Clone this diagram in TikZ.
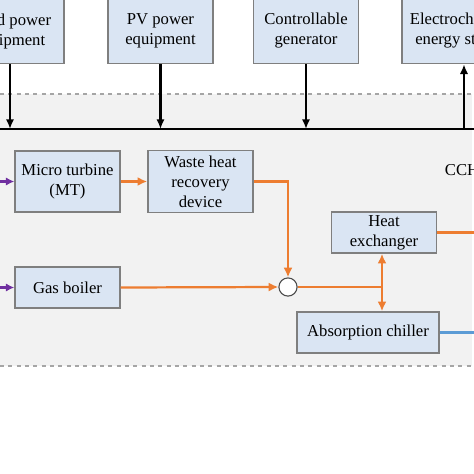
\documentclass[tikz,border=0pt]{standalone}
\usepackage{fontspec}
\setmainfont{Liberation Serif}
\usetikzlibrary{arrows.meta}
\definecolor{boxblue}{HTML}{DAE5F3}
\definecolor{boxline}{HTML}{7F7F7F}
\definecolor{heatline}{HTML}{ED7D31}
\definecolor{gasline}{HTML}{7030A0}
\definecolor{coolline}{HTML}{5B9BD5}
\definecolor{zone}{HTML}{F2F2F2}
\tikzset{unit/.style={draw=boxline, fill=boxblue, line width=1pt, align=center,
        inner xsep=2pt, inner ysep=1pt, minimum width=2.66cm,
        font=\fontsize{12}{14.4}\selectfont},
    power/.style={line width=1.5pt, -{Latex[length=7pt,width=6pt]}},
    heat/.style={heatline, line width=1.6pt, -{Latex[length=7pt,width=6.5pt]}},
    fuel/.style={gasline, line width=1.5pt, -{Latex[length=6pt,width=6pt]}},
    border/.style={boxline!70, dashed, line width=0.8pt}}

\begin{document}
\begin{tikzpicture}[x=0.025316cm, y=-0.025316cm]
    \useasboundingbox (0,0) rectangle (474,474);
    \clip (0,0) rectangle (474,474);
    \fill[zone] (0,94) rectangle (472,366);
    \coordinate (left) at (0,0);
    \coordinate (right) at (474,0);
    \coordinate (busL) at (0,129);
    \coordinate (busR) at (474,129);
    \draw[border] (0,94) -- (474,94);
    \draw[border] (0,366) -- (474,366);
    \draw[line width=1.8pt] (busL) -- (busR);

    \node[unit, minimum width=2.73cm, minimum height=1.65cm] (wind) at (10,31) {Wind power\\equipment};
    \node[unit, minimum height=1.65cm] (pv) at (160.5,31) {PV power\\equipment};
    \node[unit, minimum height=1.65cm] (gen) at (306,31) {Controllable\\generator};
    \node[unit, minimum width=3.14cm, minimum height=1.65cm] (ess) at (464,31) {Electrochemical\\energy storage};

    \draw[power] (wind.south) -- (wind.south |- busL);
    \draw[power] (pv.south) -- (pv.south |- busL);
    \draw[power] (gen.south) -- (gen.south |- busL);
    \draw[power, {Latex[length=7pt,width=6pt]}-] (ess.south) -- (ess.south |- busL);

    \node[unit, minimum height=1.55cm] (mt) at (67.5,181.5) {Micro turbine\\(MT)};
    \node[unit, minimum height=1.57cm] (whr) at (200.5,181.5) {Waste heat\\recovery\\device};
    \node[unit, minimum height=1.04cm] (gb) at (67.5,287.5) {Gas boiler};
    \node[unit, minimum height=1.04cm] (hx) at (384,232.5) {Heat\\exchanger};
    \node[unit, minimum width=3.6cm, minimum height=1.04cm] (ac) at (368,332.5) {Absorption chiller};
    \node[draw=black!70, fill=white, circle, minimum size=0.46cm, inner sep=0pt, line width=0.8pt] (mix) at (288,287) {};
    \coordinate (split) at (382,287);
    \node[anchor=west, font=\fontsize{12}{14.4}\selectfont] (cchp) at (440,170) {CCHP};

    \draw[fuel] (mt.west -| left) -- (mt.west);
    \draw[fuel] (gb.west -| left) -- (gb.west);
    \draw[heat] (mt.east) -- (whr.west);
    \draw[heat] (whr.east) -| (mix.north);
    \draw[heat] (gb.east) -- (mix.west);
    \draw[heatline, line width=1.6pt] (mix.east) -- (split);
    \draw[heat] (split) -- (split |- hx.south);
    \draw[heat] (split) -- (split |- ac.north);
    \draw[heatline, line width=1.6pt] (hx.east) -- (hx.east -| right);
    \draw[coolline, line width=1.6pt] (ac.east) -- (ac.east -| right);
\end{tikzpicture}
\end{document}
